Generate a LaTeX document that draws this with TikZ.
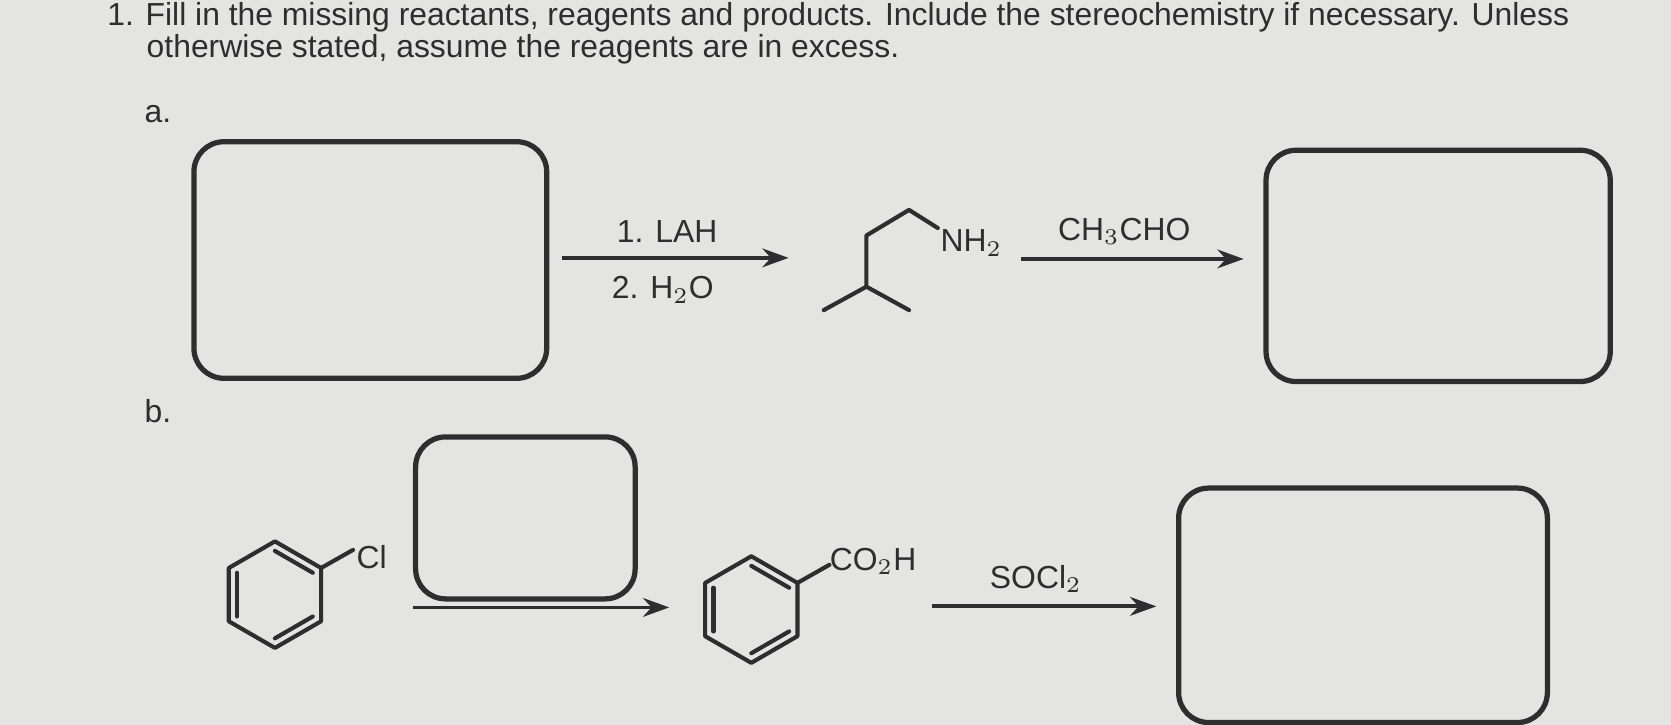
\documentclass[tikz,border=0pt]{standalone}
\usepackage{fontspec}
\setmainfont{Liberation Sans}
\usetikzlibrary{arrows.meta,calc}
\definecolor{bg}{HTML}{E4E4E2}
\definecolor{ink}{HTML}{2E2E30}
\begin{document}
\begin{tikzpicture}[x=0.01cm,y=-0.01cm,
  box/.style={draw=ink,line width=1.4pt,rounded corners=8pt},
  rx/.style={draw=ink,line width=1pt,-{Stealth[length=7pt,width=5pt]}},
  bond/.style={draw=ink,line width=1.1pt,line cap=round,line join=round},
  lbl/.style={text=ink,font=\fontsize{8.5pt}{10pt}\selectfont,inner sep=0pt},
  txt/.style={text=ink,font=\fontsize{8.5pt}{10pt}\selectfont,inner sep=0pt,anchor=west}]
\fill[bg] (0,0) rectangle (1568,680);
\useasboundingbox (0,0) rectangle (1568,680);
\node[txt] (t1) at (100,16) {1. Fill in the missing reactants, reagents and products. Include the stereochemistry if necessary. Unless};
\node[txt] (t2) at (137,46) {otherwise stated, assume the reagents are in excess.};
\node[txt] (la) at (135,107) {a.};
\node[txt] (lb) at (135,386) {b.};
% part a
\draw[box] (182,133) rectangle (513,355);
\coordinate (a1s) at (527,242); \coordinate (a1e) at (740,242);
\draw[rx] (a1s) -- (a1e);
\node[lbl] (lah) at (626,217) {1. LAH};
\node[lbl] (h2o) at (622,272) {2. H$_2$O};
\coordinate (m1) at (773,291); \coordinate (m2) at (813,269); \coordinate (m3) at (853,291);
\coordinate (m4) at (813,221); \coordinate (m5) at (853,197); \coordinate (m6) at (880,214);
\draw[bond] (m1) -- (m2) -- (m3) (m2) -- (m4) -- (m5) -- (m6);
\node[lbl,anchor=west] (nh2) at (882,228) {NH$_2$};
\coordinate (a2s) at (958,243); \coordinate (a2e) at (1167,243);
\draw[rx] (a2s) -- (a2e);
\node[lbl] (ch3cho) at (1055,217) {CH$_3$CHO};
\draw[box] (1188,141) rectangle (1511,358);
% part b
\begin{scope}[shift={(258,558)}]
\coordinate (b0) at (-90:50); \coordinate (b1) at (-30:50); \coordinate (b2) at (30:50);
\coordinate (b3) at (90:50); \coordinate (b4) at (150:50); \coordinate (b5) at (210:50);
\coordinate (bc) at (0,0);
\draw[bond] (b0)--(b1)--(b2)--(b3)--(b4)--(b5)--cycle;
\draw[bond] ($(bc)!0.82!(b0)$) -- ($(bc)!0.82!(b1)$);
\draw[bond] ($(bc)!0.82!(b2)$) -- ($(bc)!0.82!(b3)$);
\draw[bond] ($(bc)!0.82!(b4)$) -- ($(bc)!0.82!(b5)$);
\coordinate (clb) at ($(b1)+(30,-17)$);
\draw[bond] (b1) -- (clb);
\end{scope}
\node[lbl,anchor=west] (cl) at (334,523) {Cl};
\draw[box] (390,410) rectangle (596,562);
\coordinate (b1s) at (388,570); \coordinate (b1e) at (628,570);
\draw[rx] (b1s) -- (b1e);
\begin{scope}[shift={(705,572)}]
\coordinate (c0) at (-90:50); \coordinate (c1) at (-30:50); \coordinate (c2) at (30:50);
\coordinate (c3) at (90:50); \coordinate (c4) at (150:50); \coordinate (c5) at (210:50);
\coordinate (cc) at (0,0);
\draw[bond] (c0)--(c1)--(c2)--(c3)--(c4)--(c5)--cycle;
\draw[bond] ($(cc)!0.82!(c0)$) -- ($(cc)!0.82!(c1)$);
\draw[bond] ($(cc)!0.82!(c2)$) -- ($(cc)!0.82!(c3)$);
\draw[bond] ($(cc)!0.82!(c4)$) -- ($(cc)!0.82!(c5)$);
\coordinate (cob) at ($(c1)+(30,-17)$);
\draw[bond] (c1) -- (cob);
\end{scope}
\node[lbl,anchor=west] (co2h) at (778,527) {CO$_2$H};
\coordinate (b2s) at (875,569); \coordinate (b2e) at (1085,569);
\draw[rx] (b2s) -- (b2e);
\node[lbl] (socl2) at (972,543) {SOCl$_2$};
\draw[box] (1106,458) rectangle (1452,678);
\end{tikzpicture}
\end{document}
